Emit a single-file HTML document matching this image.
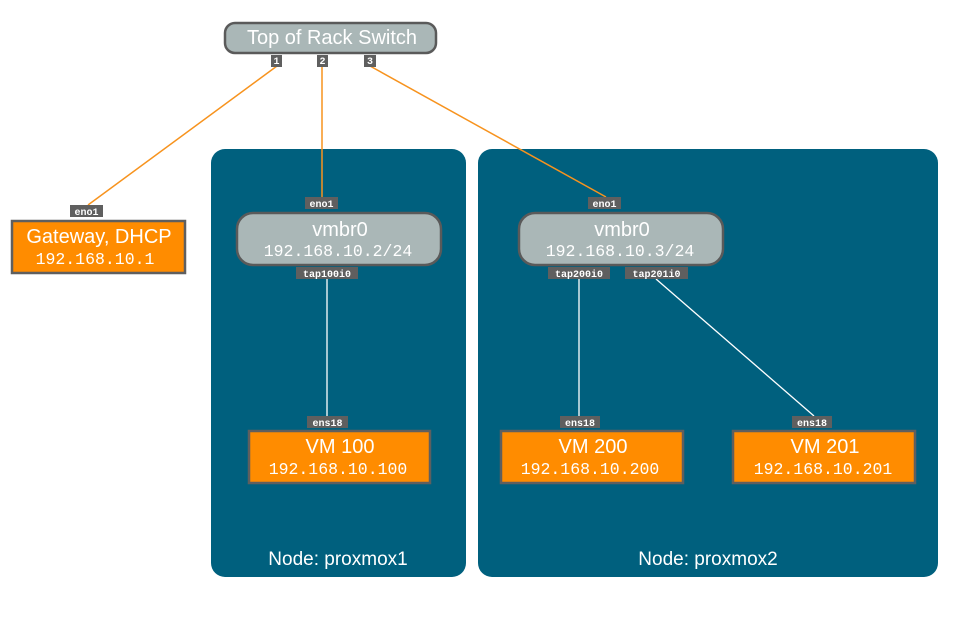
<!DOCTYPE html>
<html><head><meta charset="utf-8"><style>
html,body{margin:0;padding:0;background:#fff;width:975px;height:622px;overflow:hidden}
text{font-family:"Liberation Sans",sans-serif}
.m{font-family:"Liberation Mono",monospace}
</style></head><body>
<svg width="975" height="622" viewBox="0 0 975 622" xmlns="http://www.w3.org/2000/svg">
<rect x="211" y="149" width="255" height="428" rx="14" fill="#00607e"/>
<rect x="478" y="149" width="460" height="428" rx="14" fill="#00607e"/>
<text x="338" y="565" font-size="19" fill="#fff" text-anchor="middle">Node: proxmox1</text>
<text x="708" y="565" font-size="19" fill="#fff" text-anchor="middle">Node: proxmox2</text>
<g stroke="#f7931e" stroke-width="1.5" fill="none">
<line x1="277" y1="66" x2="88" y2="205"/>
<line x1="322" y1="66" x2="322" y2="197"/>
<line x1="370" y1="66" x2="606" y2="197"/>
</g>
<g stroke="#fff" stroke-width="1.3">
<line x1="327" y1="279" x2="327" y2="416"/>
<line x1="579" y1="279" x2="579" y2="416"/>
<line x1="656" y1="279" x2="814" y2="416"/>
</g>
<rect x="225" y="23" width="211" height="30" rx="10" fill="#aab7b7" stroke="#5a5a5a" stroke-width="2.5"/>
<text x="332" y="44" font-size="20" fill="#fff" text-anchor="middle">Top of Rack Switch</text>
<g fill="#5f5f5f"><rect x="271" y="55" width="11" height="12"/><rect x="317" y="55" width="11" height="12"/><rect x="364" y="55" width="12" height="12"/></g>
<g fill="#fff" font-size="10" text-anchor="middle" font-weight="bold"><text class="m" x="276.5" y="64">1</text><text class="m" x="322.5" y="64">2</text><text class="m" x="370" y="64">3</text></g>
<rect x="12" y="221" width="173" height="52" fill="#ff8c00" stroke="#5f5f5f" stroke-width="2.5"/>
<text x="99" y="243" font-size="20" fill="#fff" text-anchor="middle">Gateway, DHCP</text>
<text class="m" x="95" y="264" font-size="16.5" fill="#fff" text-anchor="middle">192.168.10.1</text>
<rect x="237" y="213" width="204" height="52" rx="16" fill="#aab7b7" stroke="#5a5a5a" stroke-width="2.5"/>
<text x="340" y="236" font-size="20" fill="#fff" text-anchor="middle">vmbr0</text>
<text class="m" x="338" y="256" font-size="16.5" fill="#fff" text-anchor="middle">192.168.10.2/24</text>
<rect x="519" y="213" width="204" height="52" rx="16" fill="#aab7b7" stroke="#5a5a5a" stroke-width="2.5"/>
<text x="622" y="236" font-size="20" fill="#fff" text-anchor="middle">vmbr0</text>
<text class="m" x="620" y="256" font-size="16.5" fill="#fff" text-anchor="middle">192.168.10.3/24</text>
<g fill="#ff8c00" stroke="#5f5f5f" stroke-width="2.5">
<rect x="249" y="431" width="181" height="52"/>
<rect x="501" y="431" width="182" height="52"/>
<rect x="733" y="431" width="182" height="52"/>
</g>
<g fill="#fff" text-anchor="middle">
<text x="340" y="453" font-size="20">VM 100</text>
<text class="m" x="338" y="474" font-size="16.5">192.168.10.100</text>
<text x="593" y="453" font-size="20">VM 200</text>
<text class="m" x="590" y="474" font-size="16.5">192.168.10.200</text>
<text x="825" y="453" font-size="20">VM 201</text>
<text class="m" x="823" y="474" font-size="16.5">192.168.10.201</text>
</g>
<g fill="#5f5f5f">
<rect x="70" y="205" width="33" height="12"/>
<rect x="305" y="197" width="33" height="12"/>
<rect x="588" y="197" width="33" height="12"/>
<rect x="296" y="267" width="62" height="12"/>
<rect x="548" y="267" width="62" height="12"/>
<rect x="625" y="267" width="63" height="12"/>
<rect x="307" y="416" width="41" height="12"/>
<rect x="560" y="416" width="40" height="12"/>
<rect x="792" y="416" width="40" height="12"/>
</g>
<g fill="#fff" font-size="10" text-anchor="middle" font-weight="bold">
<text class="m" x="86.5" y="215">eno1</text>
<text class="m" x="321.5" y="207">eno1</text>
<text class="m" x="604.5" y="207">eno1</text>
<text class="m" x="327" y="277">tap100i0</text>
<text class="m" x="579" y="277">tap200i0</text>
<text class="m" x="656.5" y="277">tap201i0</text>
<text class="m" x="327.5" y="426">ens18</text>
<text class="m" x="580" y="426">ens18</text>
<text class="m" x="812" y="426">ens18</text>
</g>
</svg>
</body></html>
